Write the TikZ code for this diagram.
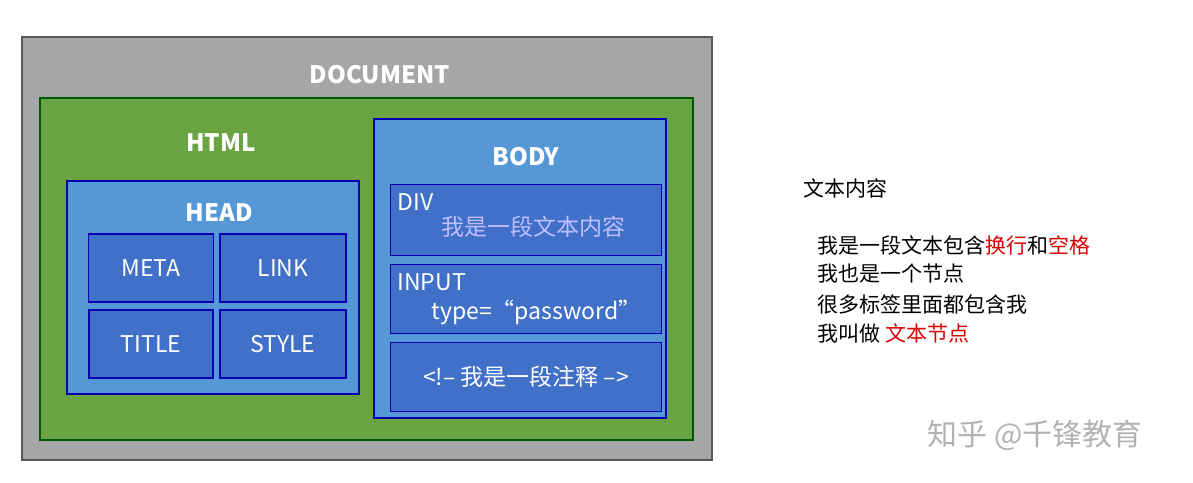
\documentclass[tikz,border=0pt]{standalone}
\usepackage{fontspec}
\setmainfont{Noto Sans CJK SC}
\begin{document}
\begin{tikzpicture}[x=1pt, y=-1pt,
		box_style/.style={draw=#1!70!black, line width=1.5pt, inner sep=0pt},
		gray_box/.style={box_style=gray, fill=gray!70},
		green_box/.style={box_style=green!50!black, fill=green!35!black!60!yellow!80!green, fill={rgb,255:red,106;green,164;blue,66}},
		light_box/.style={box_style=blue, fill={rgb,255:red,86;green,152;blue,214}},
		dark_box/.style={box_style=blue, fill={rgb,255:red,64;green,112;blue,200}},
		title_style/.style={font=\bfseries\fontsize{24}{28}\selectfont, text=white},
		label_style/.style={font=\fontsize{23}{27}\selectfont, text=white},
		note_style/.style={font=\fontsize{21}{25}\selectfont, anchor=west}]
		\useasboundingbox (0,0) rectangle (1193,482);

		% boxes
		\draw[gray_box] (22,37) rectangle (712,460);
		\draw[green_box] (40,98) rectangle (693,440);
		\draw[light_box] (67,181) rectangle (359,394);
		\draw[light_box] (374,119) rectangle (666,418);
		\node[dark_box, minimum width=125, minimum height=68] (meta) at (151,268) {};
		\node[dark_box, minimum width=126, minimum height=68] (link) at (283,268) {};
		\node[dark_box, minimum width=124, minimum height=68] (title) at (151,344) {};
		\node[dark_box, minimum width=126, minimum height=68] (style) at (283,344) {};
		\node[dark_box, minimum width=271, minimum height=71] (div) at (526,220) {};
		\node[dark_box, minimum width=271, minimum height=69] (input) at (526,299) {};
		\node[dark_box, minimum width=271, minimum height=69] (comment) at (526,377) {};

		% labels
		\node[title_style] (document) at (380,75) {DOCUMENT};
		\node[title_style] (html) at (221,143) {HTML};
		\node[title_style] (body) at (526,157) {BODY};
		\node[title_style] (head) at (219,213) {HEAD};
		\node[label_style] at (meta) {META};
		\node[label_style] at (link) {LINK};
		\node[label_style] at (title) {TITLE};
		\node[label_style] at (style) {STYLE};
		\node[label_style, anchor=west] (divname) at (394,202) {DIV};
		\node[label_style, text=white!75!blue] (divtext) at (533,227) {我是一段文本内容};
		\node[label_style, anchor=west] (inputname) at (394,282) {INPUT};
		\node[label_style, anchor=west] (inputtype) at (428,312) {type=“password”};
		\node[label_style] at (comment) {<!-- 我是一段注释 -->};

		% text node notes
		\node[note_style] (notes) at (800,188) {文本内容};
		\node[note_style] (line1) at (814,245) {我是一段文本包含\textcolor{red!85!black}{换行}和\textcolor{red!85!black}{空格}};
		\node[note_style] (line2) at (814,274) {我也是一个节点};
		\node[note_style] (line3) at (814,304) {很多标签里面都包含我};
		\node[note_style] (line4) at (814,333) {我叫做 \textcolor{red!85!black}{文本节点}};
		\node[font=\fontsize{30}{34}\selectfont, text=gray!60] (mark) at (1035,435) {知乎 @千锋教育};
\end{tikzpicture}
\end{document}
